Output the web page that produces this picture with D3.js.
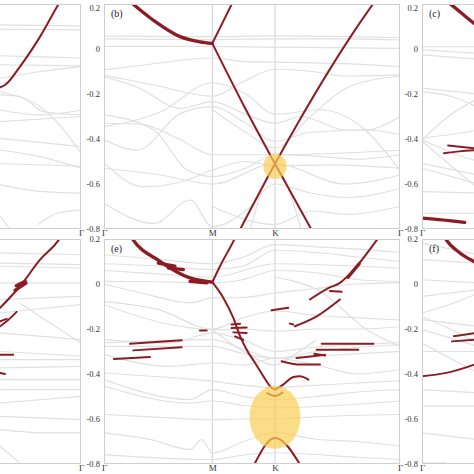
<!DOCTYPE html>
<html><head><meta charset="utf-8">
<script src="https://cdn.jsdelivr.net/npm/d3@7"></script>
<style>body{margin:0;background:#fff}svg{display:block}</style>
</head><body><svg id="c" width="474" height="474"></svg>
<script>
// ---------- axis data ----------
const kTicks=[0,0.577,0.911,1.577];
const kLabels=["Γ","M","K","Γ"];
const eTicks=[0.2,0,-0.2,-0.4,-0.6,-0.8];
const eTickLabels=["0.2","0","-0.2","-0.4","-0.6","-0.8"];
const panelNames=["(a)","(b)","(c)","(d)","(e)","(f)"];

// ---------- panel (a) ----------
const bandsA=[
 [[1.146,0.107],[1.577,0.103]],
 [[1.146,0.087],[1.577,0.085]],
 [[1.146,-0.03],[1.35,-0.035],[1.577,-0.04]],
 [[1.146,-0.07],[1.577,-0.075]],
 [[1.146,-0.13],[1.359,-0.1],[1.577,-0.078]],
 [[1.146,-0.204],[1.252,-0.211],[1.377,-0.278],[1.577,-0.293]],
 [[1.146,-0.19],[1.217,-0.204],[1.359,-0.256],[1.5,-0.375],[1.577,-0.463]],
 [[1.146,-0.271],[1.359,-0.293],[1.577,-0.271]],
 [[1.146,-0.323],[1.577,-0.3]],
 [[1.146,-0.397],[1.577,-0.434]],
 [[1.146,-0.449],[1.359,-0.478],[1.577,-0.53]],
 [[1.146,-0.51],[1.577,-0.52]],
 [[1.146,-0.604],[1.359,-0.633],[1.577,-0.641]],
 [[1.35,-0.78],[1.45,-0.73],[1.577,-0.715]],
 [[1.146,-0.74],[1.2,-0.804]]
];
const redA=[[[1.146,-0.17],[1.172,-0.16],[1.252,-0.078],[1.359,0.055],[1.465,0.21],[1.48,0.23]]];
const redThickA=[];

// ---------- panel (b) ----------
const bandsB=[
 [[0,0.057],[0.577,0.055],[0.911,0.058],[1.3,0.055],[1.577,0.05]],
 [[0,0.045],[0.577,0.042],[0.911,0.045],[1.3,0.045],[1.577,0.04]],
 [[0,0.012],[0.577,0.012],[0.911,0.008],[1.577,0.003]],
 [[0,-0.093],[0.213,-0.071],[0.577,-0.04],[0.755,-0.056],[0.911,-0.058],[1.286,-0.065],[1.577,-0.078]],
 [[0,-0.116],[0.266,-0.16],[0.577,-0.21],[0.755,-0.14],[0.911,-0.09],[1.108,-0.1],[1.286,-0.12],[1.577,-0.115]],
 [[0,-0.123],[0.178,-0.17],[0.408,-0.264],[0.577,-0.234],[0.755,-0.29],[0.911,-0.33],[1.05,-0.3],[1.286,-0.36],[1.392,-0.36],[1.577,-0.3]],
 [[0,-0.293],[0.266,-0.36],[0.444,-0.538],[0.577,-0.567],[0.755,-0.53],[0.911,-0.47],[1.108,-0.475],[1.35,-0.49],[1.577,-0.47]],
 [[0,-0.404],[0.178,-0.449],[0.408,-0.286],[0.577,-0.256],[0.755,-0.33],[0.911,-0.41],[1.1,-0.37],[1.392,-0.36],[1.577,-0.38]],
 [[0,-0.508],[0.213,-0.612],[0.444,-0.582],[0.577,-0.538],[0.755,-0.5],[0.911,-0.52],[1.2,-0.515],[1.577,-0.53]],
 [[0,-0.686],[0.266,-0.775],[0.46,-0.671],[0.577,-0.79],[0.755,-0.72],[0.911,-0.6],[1.1,-0.64],[1.3,-0.66],[1.577,-0.62]],
 [[0,-0.345],[0.3,-0.28],[0.577,-0.15],[0.755,-0.2],[0.911,-0.29],[1.15,-0.27],[1.392,-0.36],[1.577,-0.54]],
 [[0.577,-0.27],[0.755,-0.37],[0.911,-0.44],[1.1,-0.3],[1.3,-0.17],[1.577,-0.12]],
 [[0.577,-0.7],[0.911,-0.78],[1.1,-0.72],[1.3,-0.735],[1.577,-0.7]],
 [[0.78,-0.8],[0.911,-0.53],[1.05,-0.8]],
 [[0,-0.33],[0.2,-0.335],[0.4,-0.4],[0.577,-0.47],[0.911,-0.47],[1.577,-0.45]],
 [[0,-0.53],[0.3,-0.56],[0.577,-0.6],[0.911,-0.51],[1.286,-0.6],[1.577,-0.56]]
];
const redB=[
 [[0.577,0.025],[0.69,0.215]],
 [[0.577,0.025],[0.75,-0.26],[0.911,-0.51],[1.11,-0.81]],
 [[0.72,-0.81],[0.911,-0.51],[1.037,-0.323],[1.337,0.084],[1.45,0.22]]
];
const redThickB=[[[0.14,0.21],[0.261,0.129],[0.405,0.055],[0.511,0.032],[0.577,0.025]]];
const highlightB=[[0.911,-0.521,0.062,0.057]];

// ---------- panel (c) ----------
const bandsC=[
 [[0,0.01],[0.3,0.01]],
 [[0,-0.004],[0.3,-0.02]],
 [[0,-0.026],[0.3,-0.045]],
 [[0,-0.174],[0.3,-0.2]],
 [[0,-0.189],[0.156,-0.211],[0.3,-0.26]],
 [[0,-0.404],[0.156,-0.29],[0.3,-0.22]],
 [[0,-0.404],[0.156,-0.46],[0.3,-0.5]],
 [[0,-0.41],[0.156,-0.52],[0.3,-0.62]],
 [[0,-0.508],[0.3,-0.56]],
 [[0,-0.53],[0.3,-0.6]],
 [[0,-0.634],[0.3,-0.64]],
 [[0,-0.73],[0.3,-0.73]],
 [[0,-0.395],[0.156,-0.38],[0.3,-0.36]]
];
const redC=[
 [[0.139,-0.429],[0.3,-0.443]],
 [[0.117,-0.463],[0.2,-0.455],[0.3,-0.449]]
];
const redThickC=[
 [[0.12,0.22],[0.147,0.203],[0.277,0.114],[0.3,0.1]],
 [[0.0,-0.752],[0.156,-0.764],[0.227,-0.771]]
];

// ---------- panel (d) ----------
const bandsD=[
 [[1.146,0.138],[1.577,0.13]],
 [[1.146,0.093],[1.577,0.086]],
 [[1.146,0.079],[1.577,0.071]],
 [[1.146,0.005],[1.577,0.005]],
 [[1.146,-0.07],[1.359,-0.062],[1.577,-0.055]],
 [[1.146,-0.129],[1.359,-0.11],[1.577,-0.092]],
 [[1.25,-0.084],[1.359,-0.144],[1.577,-0.262]],
 [[1.146,-0.217],[1.577,-0.247]],
 [[1.146,-0.3],[1.577,-0.32]],
 [[1.146,-0.336],[1.577,-0.336]],
 [[1.146,-0.373],[1.577,-0.366]],
 [[1.146,-0.425],[1.577,-0.425]],
 [[1.146,-0.469],[1.577,-0.469]],
 [[1.146,-0.529],[1.577,-0.499]],
 [[1.146,-0.588],[1.577,-0.603]],
 [[1.146,-0.647],[1.41,-0.662],[1.577,-0.662]],
 [[1.146,-0.721],[1.25,-0.795]]
];
const redD=[
 [[1.146,-0.106],[1.252,-0.01],[1.359,0.108],[1.465,0.204],[1.48,0.225]],
 [[1.146,-0.188],[1.181,-0.166],[1.234,-0.124]],
 [[1.146,-0.166],[1.181,-0.155]],
 [[1.146,-0.314],[1.216,-0.314]],
 [[1.146,-0.395],[1.172,-0.4]]
];
const redThickD=[
 [[1.225,-0.028],[1.284,0.004]],
 [[1.232,-0.008],[1.28,0.012]]
];

// ---------- panel (e) ----------
const bandsE=[
 [[0,0.13],[0.29,0.11],[0.577,0.09],[0.744,0.12],[0.911,0.175],[1.13,0.165],[1.35,0.155],[1.577,0.14]],
 [[0,0.09],[0.29,0.08],[0.577,0.064],[0.744,0.08],[0.911,0.15],[1.13,0.14],[1.35,0.12],[1.577,0.1]],
 [[0,0.06],[0.29,0.045],[0.577,0.03],[0.911,0.09],[1.577,0.07]],
 [[0,0.012],[0.29,0.01],[0.577,0.005],[0.744,0.02],[0.911,0.06],[1.13,0.05],[1.35,0.02],[1.577,0.01]],
 [[0,0.0],[0.2,-0.04],[0.46,-0.084],[0.577,-0.062],[0.744,-0.06],[0.911,-0.04],[1.13,-0.02],[1.35,0.0],[1.577,0.005]],
 [[0,-0.077],[0.29,-0.114],[0.577,-0.2],[0.744,-0.15],[0.911,-0.12],[1.13,-0.14],[1.35,-0.15],[1.577,-0.16]],
 [[0,-0.092],[0.35,-0.18],[0.577,-0.203],[0.744,-0.2],[0.911,-0.21],[1.13,-0.2],[1.35,-0.2],[1.577,-0.19]],
 [[0,-0.247],[0.35,-0.262],[0.577,-0.218],[0.744,-0.25],[0.911,-0.3],[1.13,-0.28],[1.35,-0.27],[1.577,-0.26]],
 [[0,-0.262],[0.577,-0.247],[0.744,-0.29],[0.911,-0.33],[1.13,-0.3],[1.577,-0.27]],
 [[0,-0.277],[0.577,-0.277],[0.744,-0.31],[0.911,-0.33],[1.13,-0.32],[1.577,-0.3]],
 [[0,-0.314],[0.35,-0.366],[0.577,-0.351],[0.744,-0.36],[0.911,-0.33],[1.13,-0.36],[1.35,-0.4],[1.577,-0.38]],
 [[0,-0.395],[0.25,-0.41],[0.577,-0.432],[0.744,-0.45],[0.911,-0.46],[1.13,-0.45],[1.35,-0.44],[1.577,-0.43]],
 [[0,-0.425],[0.46,-0.514],[0.577,-0.469],[0.744,-0.5],[0.911,-0.514],[1.13,-0.5],[1.35,-0.48],[1.577,-0.47]],
 [[0,-0.454],[0.46,-0.529],[0.577,-0.52],[0.744,-0.54],[0.911,-0.55],[1.577,-0.52]],
 [[0,-0.58],[0.35,-0.595],[0.577,-0.603],[0.744,-0.6],[0.911,-0.6],[1.13,-0.59],[1.577,-0.58]],
 [[0,-0.662],[0.25,-0.692],[0.46,-0.736],[0.52,-0.692],[0.577,-0.751],[0.744,-0.7],[0.911,-0.66],[1.13,-0.69],[1.35,-0.7],[1.577,-0.72]],
 [[0,-0.758],[0.577,-0.78],[0.744,-0.76],[0.911,-0.75],[1.35,-0.77],[1.577,-0.78]],
 [[0.911,0.03],[1.151,-0.032],[1.4,-0.203],[1.577,-0.277]],
 [[0.577,-0.203],[0.744,-0.3],[0.911,-0.36],[1.0,-0.32],[1.13,-0.25]]
];
const redE=[
 [[0.577,0.008],[0.618,0.079],[0.698,0.204],[0.71,0.225]],
 [[0.577,0.008],[0.636,-0.062],[0.689,-0.151],[0.725,-0.232],[0.76,-0.292],[0.805,-0.351],[0.849,-0.41],[0.894,-0.462],[0.911,-0.469]],
 [[0.911,-0.469],[0.955,-0.447],[1.009,-0.413],[1.044,-0.41],[1.089,-0.425]],
 [[0.87,-0.485],[0.911,-0.498],[0.95,-0.483]],
 [[0.796,-0.81],[0.911,-0.684],[1.05,-0.81]],
 [[0.511,-0.207],[0.547,-0.207]],
 [[0.68,-0.18],[0.725,-0.177]],
 [[0.68,-0.196],[0.76,-0.193]],
 [[0.689,-0.215],[0.76,-0.218]],
 [[0.698,-0.233],[0.742,-0.248]],
 [[0.139,-0.266],[0.414,-0.25]],
 [[0.156,-0.295],[0.414,-0.281]],
 [[0.053,-0.333],[0.245,-0.324]],
 [[0.893,-0.117],[0.982,-0.106]],
 [[1.097,-0.069],[1.195,-0.018],[1.257,0.005],[1.346,0.079],[1.461,0.204],[1.48,0.225]],
 [[1.204,-0.031],[1.266,-0.034]],
 [[1.017,-0.188],[1.133,-0.144],[1.257,-0.069]],
 [[0.99,-0.176],[1.008,-0.18]],
 [[1.16,-0.266],[1.435,-0.266]],
 [[1.133,-0.292],[1.355,-0.292]],
 [[1.026,-0.329],[1.1,-0.322],[1.177,-0.314]],
 [[1.12,-0.31],[1.177,-0.318]],
 [[0.946,-0.343],[1.044,-0.358],[1.151,-0.358]]
];
const redThickE=[
 [[0.14,0.215],[0.148,0.2045],[0.298,0.101],[0.458,0.027],[0.577,0.008]],
 [[0.289,0.093],[0.378,0.079]],
 [[0.343,0.071],[0.423,0.064]],
 [[0.458,0.012],[0.547,0.005]],
 [[1.3,0.03],[1.36,0.09]]
];
const highlightE=[[0.911,-0.592,0.136,0.141]];

// ---------- panel (f) ----------
const bandsF=[
 [[0,0.182],[0.3,0.13]],
 [[0,0.108],[0.3,0.093]],
 [[0,0.019],[0.3,0.005]],
 [[0,-0.055],[0.3,-0.025]],
 [[0,-0.129],[0.15,-0.09],[0.3,-0.04]],
 [[0,-0.144],[0.15,-0.2],[0.3,-0.262]],
 [[0,-0.158],[0.3,-0.188]],
 [[0,-0.203],[0.3,-0.277]],
 [[0,-0.262],[0.15,-0.33],[0.3,-0.395]],
 [[0,-0.3],[0.3,-0.3]],
 [[0,-0.469],[0.3,-0.484]],
 [[0,-0.543],[0.3,-0.543]],
 [[0,-0.662],[0.3,-0.692]],
 [[0,-0.795],[0.13,-0.795]]
];
const redF=[
 [[0.17,-0.232],[0.3,-0.216]],
 [[0.16,-0.255],[0.3,-0.246]],
 [[0,-0.41],[0.13,-0.395],[0.3,-0.352]]
];
const redThickF=[[[0.1,0.24],[0.123,0.204],[0.202,0.138],[0.277,0.1],[0.3,0.09]]];

// ---------- layout ----------
const VW=474;
const W=296;
const colX=[-215,104,422];
const rowY=[[4,229],[239,464]];
const panels=[
 {bands:bandsA,red:redA,thick:redThickA,hl:[],c:0,r:0},
 {bands:bandsB,red:redB,thick:redThickB,hl:highlightB,c:1,r:0},
 {bands:bandsC,red:redC,thick:redThickC,hl:[],c:2,r:0},
 {bands:bandsD,red:redD,thick:redThickD,hl:[],c:0,r:1},
 {bands:bandsE,red:redE,thick:redThickE,hl:highlightE,c:1,r:1},
 {bands:bandsF,red:redF,thick:redThickF,hl:[],c:2,r:1}
];
const RED="#8c1c24", GREY="#e0e0e0", FONT="'Liberation Serif','DejaVu Serif',serif";
const svg=d3.select("#c");

panels.forEach((p,i)=>{
  const x0=colX[p.c], [yt,yb]=rowY[p.r];
  const x=d3.scaleLinear().domain([kTicks[0],kTicks[3]]).range([x0,x0+W]);
  const y=d3.scaleLinear().domain([-0.8,0.2]).range([yb,yt]);
  const g=svg.append("g");
  const cid="clip"+i;
  svg.append("clipPath").attr("id",cid).append("rect")
    .attr("x",x0).attr("y",yt).attr("width",W).attr("height",yb-yt);
  const inner=g.append("g").attr("clip-path",`url(#${cid})`);
  inner.selectAll(".v").data(kTicks.slice(1,3)).join("line")
    .attr("x1",d=>x(d)).attr("x2",d=>x(d)).attr("y1",yt).attr("y2",yb)
    .attr("stroke","#c9cde2").attr("stroke-width",1);
  const line=d3.line().x(d=>x(d[0])).y(d=>y(d[1])).curve(d3.curveMonotoneX);
  inner.selectAll(".b").data(p.bands).join("path").attr("d",line)
    .attr("fill","none").attr("stroke",GREY).attr("stroke-width",1.2);
  inner.selectAll(".r").data(p.red).join("path").attr("d",line)
    .attr("fill","none").attr("stroke",RED).attr("stroke-width",2).attr("stroke-linecap","round");
  inner.selectAll(".t").data(p.thick).join("path").attr("d",line)
    .attr("fill","none").attr("stroke",RED).attr("stroke-width",3.3).attr("stroke-linecap","round");
  inner.selectAll(".h").data(p.hl).join("ellipse")
    .attr("cx",d=>x(d[0])).attr("cy",d=>y(d[1]))
    .attr("rx",d=>x(d[0]+d[2])-x(d[0])).attr("ry",d=>y(d[1]-d[3])-y(d[1]))
    .attr("fill","#f9cf55").attr("fill-opacity",0.7);
  g.append("rect").attr("x",x0+0.5).attr("y",yt+0.5).attr("width",W-1).attr("height",yb-yt-1)
    .attr("fill","none").attr("stroke","#cfcfcf").attr("stroke-width",1);
  if (x0>0){
    const ya=g.append("g").attr("transform",`translate(${x0},0)`)
      .call(d3.axisLeft(y).tickValues(eTicks).tickSize(0).tickPadding(4)
        .tickFormat((d,j)=>eTickLabels[j]));
    ya.select(".domain").remove();
    ya.selectAll("text").attr("font-family",FONT).attr("font-size",8.5).attr("fill","#333");
    // keep the top label inside the window
    ya.selectAll("text").filter(d=>d===eTicks[0]).attr("dy",p.r===0?"0.75em":"0.32em");
    g.append("text").attr("x",x0+7).attr("y",yt+13).text(panelNames[i])
      .attr("font-family",FONT).attr("font-size",10).attr("fill","#222");
  }
  const visK=kTicks.filter(d=>x(d)>=0 && x(d)<=VW);
  const xa=g.append("g").attr("transform",`translate(0,${yb})`)
    .call(d3.axisBottom(x).tickValues(visK).tickSize(0).tickPadding(1)
      .tickFormat(d=>kLabels[kTicks.indexOf(d)]));
  xa.select(".domain").remove();
  xa.selectAll("text").attr("font-family",FONT).attr("font-size",9).attr("fill","#333");
});
</script></body></html>
